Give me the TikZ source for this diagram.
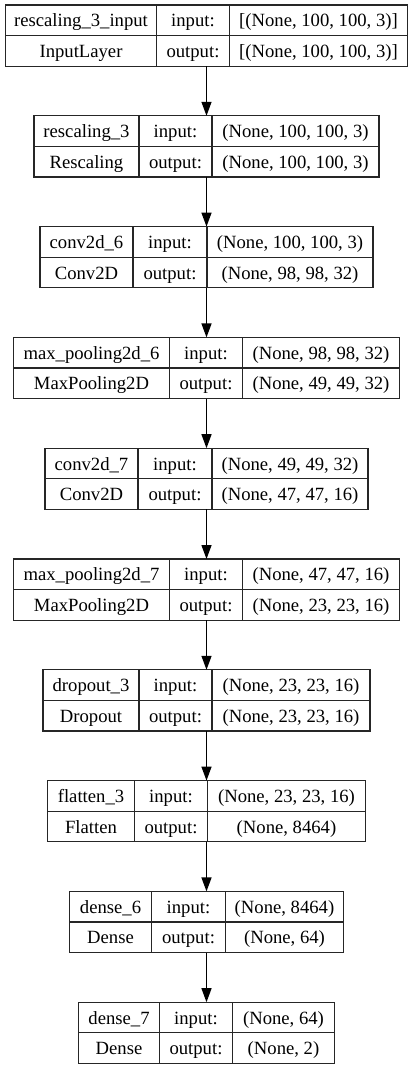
\documentclass[tikz,border=0pt]{standalone}
\usepackage{fontspec}
\setmainfont{Liberation Serif}
\usetikzlibrary{calc,positioning,arrows.meta}
\def\px{0.75pt}
\tikzset{
	kbox/.style={draw=black!85, line width=1pt, minimum height=45.9pt, inner sep=0pt, outer sep=0pt},
	kline/.style={draw=black!85, line width=1pt},
	ktext/.style={inner sep=0pt, text height=12.8pt, text depth=3pt, font=\fontsize{14}{16}\selectfont},
	karrow/.style={line width=1pt, -{Triangle[length=10.5pt, width=7.5pt]}},
	node distance=37.2pt
}
% #1 name, #2 placement, #3 width, #4 #5 dividers from the left side, #6-#9 texts
\newcommand{\layerbox}[9]{%
	\node[kbox, minimum width=#3*\px, #2] (#1) {};
	\draw[kline] (#1.west) -- (#1.east);
	\draw[kline] ($(#1.north west)+(#4,0)$) -- ($(#1.south west)+(#4,0)$);
	\draw[kline] ($(#1.north west)+(#5,0)$) -- ($(#1.south west)+(#5,0)$);
	\node[ktext] (#1-name) at ($(#1.north west)+(#4/2,15.3)$) {#6};
	\node[ktext] (#1-in) at ($(#1.north west)+({(#4+#5)/2},15.3)$) {input:};
	\node[ktext] (#1-inshape) at ($(#1.north west)+({(#5+#3)/2},15.3)$) {#8};
	\node[ktext] (#1-class) at ($(#1.south west)+(#4/2,-15.3)$) {#7};
	\node[ktext] (#1-out) at ($(#1.south west)+({(#4+#5)/2},-15.3)$) {output:};
	\node[ktext] (#1-outshape) at ($(#1.south west)+({(#5+#3)/2},-15.3)$) {#9};
}

\begin{document}
\begin{tikzpicture}[x=0.75pt, y=-0.75pt]
	%%%%% START %%%%%
	\useasboundingbox (0,0) rectangle (413,1069);
	
	\layerbox{input}{at={(206.5,35.6)}}{402}{151}{224}{rescaling\_3\_input}{InputLayer}{[(None, 100, 100, 3)]}{[(None, 100, 100, 3)]}
	\layerbox{rescale}{below=of input}{345}{105}{178}{rescaling\_3}{Rescaling}{(None, 100, 100, 3)}{(None, 100, 100, 3)}
	\layerbox{conv6}{below=of rescale}{333}{93}{167}{conv2d\_6}{Conv2D}{(None, 100, 100, 3)}{(None, 98, 98, 32)}
	\layerbox{pool6}{below=of conv6}{386}{156}{229}{max\_pooling2d\_6}{MaxPooling2D}{(None, 98, 98, 32)}{(None, 49, 49, 32)}
	\layerbox{conv7}{below=of pool6}{323}{93}{167}{conv2d\_7}{Conv2D}{(None, 49, 49, 32)}{(None, 47, 47, 16)}
	\layerbox{pool7}{below=of conv7}{386}{156}{229}{max\_pooling2d\_7}{MaxPooling2D}{(None, 47, 47, 16)}{(None, 23, 23, 16)}
	\layerbox{drop3}{below=of pool7}{327}{96}{169}{dropout\_3}{Dropout}{(None, 23, 23, 16)}{(None, 23, 23, 16)}
	\layerbox{flat3}{below=of drop3}{318}{87}{160}{flatten\_3}{Flatten}{(None, 23, 23, 16)}{(None, 8464)}
	\layerbox{dense6}{below=of flat3}{274}{82}{156}{dense\_6}{Dense}{(None, 8464)}{(None, 64)}
	\layerbox{dense7}{below=of dense6}{256}{81}{154}{dense\_7}{Dense}{(None, 64)}{(None, 2)}
	
	\draw[karrow] (input.south) -- (rescale.north);
	\draw[karrow] (rescale.south) -- (conv6.north);
	\draw[karrow] (conv6.south) -- (pool6.north);
	\draw[karrow] (pool6.south) -- (conv7.north);
	\draw[karrow] (conv7.south) -- (pool7.north);
	\draw[karrow] (pool7.south) -- (drop3.north);
	\draw[karrow] (drop3.south) -- (flat3.north);
	\draw[karrow] (flat3.south) -- (dense6.north);
	\draw[karrow] (dense6.south) -- (dense7.north);
	
	%%%%% END %%%%%
\end{tikzpicture}
\end{document}
